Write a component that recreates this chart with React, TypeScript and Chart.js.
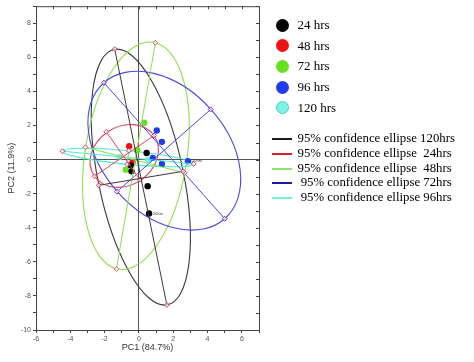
import React, { useEffect, useRef } from 'react';
import { Chart, registerables } from 'chart.js';
Chart.register(...registerables);

// ---- data ----
const groupLabels = ['24 hrs', '48 hrs', '72 hrs', '96 hrs', '120 hrs'];
const groupColors = ['#000000', '#ee1111', '#66e01e', '#1f3cf0', '#7ef3e3'];
const pts24 = [{ x: 0.45, y: 0.39 }, { x: -0.47, y: -0.34 }, { x: -0.43, y: -0.69 }, { x: 0.51, y: -1.56 }, { x: 0.59, y: -3.16 }];
const pts48 = [{ x: -0.57, y: 0.78 }, { x: -0.37, y: -0.14 }];
const pts72 = [{ x: 0.31, y: 2.16 }, { x: -0.1, y: 0.55 }, { x: -0.76, y: -0.59 }];
const pts96 = [{ x: 1.04, y: 1.71 }, { x: 1.34, y: 1.04 }, { x: 0.81, y: 0.1 }, { x: 1.34, y: -0.25 }, { x: 2.86, y: -0.1 }];
const pts120 = [{ x: -1.12, y: 0.16 }, { x: 0.55, y: -0.04 }];
const groupPoints = [pts24, pts48, pts72, pts96, pts120];

const pointNotes = [{ x: 0.59, y: -3.16, text: '20hrs' }, { x: 2.86, y: -0.1, text: '20hrs' }];

const ellipseLabels = [
  '95% confidence ellipse 120hrs',
  '95% confidence ellipse  24hrs',
  '95% confidence ellipse  48hrs',
  ' 95% confidence ellipse 72hrs',
  ' 95% confidence ellipse 96hrs',
];
const ellipseColors = ['#3a3a3a', '#e0405a', '#8be04a', '#4a4ae0', '#50e8d0'];
const legendLineColors = ['#1a1a1a', '#e01c2c', '#8ee868', '#1a1aa8', '#70f0d8'];
const vertexColors = ['#d0406a', '#d0406a', '#d05a6a', '#8030a0', '#d0406a'];
const majorA = [[-1.41, 6.47], [-2.59, -0.98], [0.96, 6.86], [-2.04, 4.51], [-4.45, 0.49]];
const majorB = [[1.63, -8.53], [0.88, 1.41], [-1.31, -6.41], [5.0, -3.47], [3.19, -0.25]];
const minorA = [[-2.34, -1.51], [-1.9, 1.63], [-3.12, 0.72], [-1.28, -1.88], [-0.59, 0.52]];
const minorB = [[2.57, -0.69], [0.06, -1.18], [2.66, -0.78], [4.18, 2.94], [-0.67, -0.28]];

const xTitle = 'PC1 (84.7%)';
const yTitle = 'PC2 (11.9%)';

const toPt = (p: number[]) => ({ x: p[0], y: p[1] });

const ellipsePlugin = {
  id: 'ellipses',
  beforeDatasetsDraw(chart: any) {
    const { ctx, scales } = chart;
    const px = (p: number[]) => ({ x: scales.x.getPixelForValue(p[0]), y: scales.y.getPixelForValue(p[1]) });
    ctx.save();
    ctx.beginPath();
    ctx.rect(chart.chartArea.left, chart.chartArea.top, chart.chartArea.right - chart.chartArea.left, chart.chartArea.bottom - chart.chartArea.top);
    ctx.clip();
    for (let i = 0; i < majorA.length; i++) {
      const a1 = px(majorA[i]), a2 = px(majorB[i]), b1 = px(minorA[i]), b2 = px(minorB[i]);
      const c = { x: (a1.x + a2.x) / 2, y: (a1.y + a2.y) / 2 };
      const a = { x: (a2.x - a1.x) / 2, y: (a2.y - a1.y) / 2 };
      const b = { x: (b2.x - b1.x) / 2, y: (b2.y - b1.y) / 2 };
      ctx.save();
      ctx.transform(a.x, a.y, b.x, b.y, c.x, c.y);
      ctx.beginPath();
      ctx.arc(0, 0, 1, 0, Math.PI * 2);
      ctx.restore();
      ctx.strokeStyle = ellipseColors[i];
      ctx.lineWidth = 1.1;
      ctx.stroke();
    }
    ctx.restore();
  },
};

const framePlugin = {
  id: 'frame',
  afterDatasetsDraw(chart: any) {
    const { ctx, chartArea, scales } = chart;
    ctx.save();
    ctx.strokeStyle = '#444';
    ctx.lineWidth = 1;
    ctx.beginPath();
    ctx.moveTo(chartArea.left, chartArea.top + 0.5);
    ctx.lineTo(chartArea.right + 0.5, chartArea.top + 0.5);
    ctx.lineTo(chartArea.right + 0.5, chartArea.bottom);
    for (let v = -6; v <= 7; v++) {
      const x = Math.round(scales.x.getPixelForValue(v)) + 0.5;
      ctx.moveTo(x, chartArea.top);
      ctx.lineTo(x, chartArea.top + 3);
    }
    for (let v = -10; v <= 9; v++) {
      const y = Math.round(scales.y.getPixelForValue(v)) + 0.5;
      ctx.moveTo(chartArea.right, y);
      ctx.lineTo(chartArea.right - 3, y);
    }
    ctx.stroke();
    ctx.fillStyle = '#333';
    ctx.font = '4px "Liberation Sans"';
    ctx.textBaseline = 'middle';
    for (const n of pointNotes) {
      ctx.fillText(n.text, scales.x.getPixelForValue(n.x) + 4, scales.y.getPixelForValue(n.y));
    }
    ctx.restore();
  },
};

export default function App() {
  const ref = useRef<HTMLCanvasElement>(null);
  useEffect(() => {
    const datasets: any[] = [];
    for (let i = 0; i < majorA.length; i++) {
      for (const seg of [[majorA[i], majorB[i]], [minorA[i], minorB[i]]]) {
        datasets.push({
          data: seg.map(toPt),
          showLine: true,
          borderColor: ellipseColors[i],
          borderWidth: 1,
          pointStyle: 'rectRot',
          pointRadius: 2.5,
          pointBorderColor: vertexColors[i],
          pointBackgroundColor: 'rgba(255,255,255,0.6)',
          pointBorderWidth: 1,
        });
      }
    }
    groupPoints.forEach((pts, i) => {
      datasets.push({
        data: pts,
        showLine: false,
        pointRadius: 3.2,
        pointBackgroundColor: groupColors[i],
        pointBorderColor: groupColors[i],
        pointBorderWidth: 0,
      });
    });
    const chart = new Chart(ref.current!, {
      type: 'scatter',
      data: { datasets },
      plugins: [ellipsePlugin, framePlugin],
      options: {
        responsive: false,
        animation: false,
        layout: { padding: { left: 0, right: 215, top: 6, bottom: 0 } },
        plugins: { legend: { display: false }, tooltip: { enabled: false } },
        scales: {
          x: {
            type: 'linear',
            min: -6,
            max: 7,
            afterFit: (s: any) => { s.height = 32; },
            ticks: {
              stepSize: 1,
              autoSkip: false,
              maxRotation: 0,
              padding: 2,
              color: '#555',
              font: { family: 'Liberation Sans', size: 7 },
              callback: (v: any) => (Number(v) % 2 === 0 ? String(v) : ''),
            },
            grid: {
              color: (c: any) => (c.tick && c.tick.value === 0 ? '#555' : 'rgba(0,0,0,0)'),
              tickColor: '#444',
              tickLength: 3,
            },
            border: { display: true, color: '#444' },
            title: { display: true, text: xTitle, color: '#333', font: { family: 'Liberation Sans', size: 9 }, padding: { top: 9, bottom: 9 } },
          },
          y: {
            type: 'linear',
            min: -10,
            max: 9,
            afterFit: (s: any) => { s.width = 36; },
            ticks: {
              stepSize: 1,
              autoSkip: false,
              padding: 2,
              color: '#555',
              font: { family: 'Liberation Sans', size: 7 },
              callback: (v: any) => (Number(v) % 2 === 0 ? String(v) : ''),
            },
            grid: {
              color: (c: any) => (c.tick && c.tick.value === 0 ? '#555' : 'rgba(0,0,0,0)'),
              tickColor: '#444',
              tickLength: 3,
            },
            border: { display: true, color: '#444' },
            title: { display: true, text: yTitle, color: '#333', font: { family: 'Liberation Sans', size: 9 }, padding: { top: 6, bottom: 6 } },
          },
        },
      },
    } as any);
    return () => chart.destroy();
  }, []);

  const serif = '"Liberation Serif", "Times New Roman", serif';
  return (
    <div style={{ position: 'absolute', left: 0, top: 0, width: 474, height: 362, background: '#fff' }}>
      <canvas ref={ref} width={474} height={362} style={{ position: 'absolute', left: 0, top: 0 }} />
      {groupLabels.map((l, i) => {
        const cy = 25 + i * 20.7;
        return (
          <React.Fragment key={l}>
            <div style={{ position: 'absolute', left: 276, top: cy - 6.5, width: 13, height: 13, borderRadius: '50%', background: groupColors[i], boxSizing: 'border-box', border: i === 4 ? '1px solid #4cc' : 'none' }} />
            <div style={{ position: 'absolute', left: 297.5, top: cy - 9, height: 18, lineHeight: '18px', fontFamily: serif, fontSize: 13, color: '#000', whiteSpace: 'pre' }}>{l}</div>
          </React.Fragment>
        );
      })}
      {ellipseLabels.map((l, i) => {
        const ly = 139 + i * 14.8;
        return (
          <React.Fragment key={l}>
            <div style={{ position: 'absolute', left: 272, top: ly - 1, width: 20, height: 2, background: legendLineColors[i] }} />
            <div style={{ position: 'absolute', left: 297.5, top: ly - 10, height: 18, lineHeight: '18px', fontFamily: serif, fontSize: 12.8, color: '#000', whiteSpace: 'pre' }}>{l}</div>
          </React.Fragment>
        );
      })}
    </div>
  );
}
